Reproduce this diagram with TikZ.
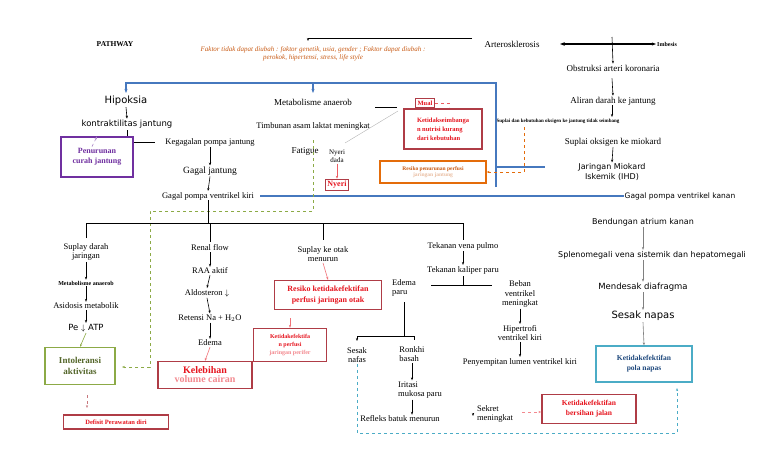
\documentclass[tikz,border=0pt]{standalone}
\usepackage{fontspec}
\setmainfont{Liberation Serif}
\newfontfamily\sansf{DejaVu Sans}
\usetikzlibrary{arrows.meta}
\definecolor{bl}{RGB}{70,120,190}
\definecolor{rd}{RGB}{230,20,30}
\definecolor{rb}{RGB}{175,60,70}
\definecolor{pu}{RGB}{112,48,160}
\definecolor{gr}{RGB}{140,170,70}
\definecolor{og}{RGB}{228,108,10}
\definecolor{ob}{RGB}{200,90,20}
\definecolor{cy}{RGB}{75,172,198}
\definecolor{nb}{RGB}{31,73,125}
\begin{document}
\begin{tikzpicture}[x=1pt,y=-1pt,
 t/.style={font=\fontsize{8.5}{9.5}\selectfont,align=center,inner sep=1pt},
 ts/.style={font=\sansf\fontsize{8}{9.5}\selectfont,align=center,inner sep=1pt},
 tl/.style={font=\sansf\fontsize{10}{11}\selectfont,align=center,inner sep=1pt},
 tiny/.style={font=\fontsize{6}{7}\selectfont\bfseries,align=center,inner sep=1pt},
 box/.style={draw=#1,line width=1.3pt,fill=white,align=center,font=\fontsize{7}{8}\selectfont\bfseries,inner sep=2pt},
 ar/.style={-{Stealth[length=3pt]},line width=0.6pt},
 bline/.style={bl,line width=1.2pt},
 gd/.style={gr,dashed,line width=0.9pt},
]
\useasboundingbox (0,0) rectangle (768,466);
% top
\node[t,font=\fontsize{7.5}{8}\selectfont\bfseries] (pw) at (115,44) {PATHWAY};
\node[t,text=ob,font=\fontsize{7}{8.5}\selectfont\itshape] (fk) at (313,54) {Faktor tidak dapat diubah : faktor genetik, usia, gender ; Faktor dapat diubah :\\ perokok, hipertensi, stress, life style};
\node[t,font=\fontsize{9}{10}\selectfont] (art) at (512,44) {Arterosklerosis};
\coordinate (c1) at (308,38);
\draw[ar] (472,38) -- (c1) -- ++(0,3);
\node[tiny] (imb) at (667,44) {Imbesis};
\draw[{Stealth[length=5pt,open]}-{Stealth[length=4pt]},line width=1.5pt] (560,44) -- (imb.west);
\node[t,font=\fontsize{9}{10}\selectfont] (obs) at (613,68) {Obstruksi arteri koronaria};
\draw[ar] (612,37) -- (obs.north);
\node[t,font=\fontsize{9}{10}\selectfont] (ali) at (613,101) {Aliran darah ke jantung};
\draw[ar] (obs.south) ++(-1,6) -- (ali.north);
\node[t,font=\fontsize{5}{6}\selectfont\bfseries] (sup) at (558,121) {Suplai dan kebutuhan oksigen ke jantung tidak seimbang};
\draw[ar] (612,105) -- (612,117);
\node[t,font=\fontsize{9}{10}\selectfont] (sok) at (613,142) {Suplai oksigen ke miokard};
\node[ts] (jmi) at (612,172) {Jaringan Miokard\\Iskemik (IHD)};
\draw[ar] (sok.south) -- (jmi.north);
\node[ts,font=\sansf\fontsize{7.5}{8}\selectfont] (gkn) at (680,196) {Gagal pompa ventrikel kanan};
% blue lines
\draw[bline,-{Stealth[length=4pt]}] (496,187) -- (496,83) -- (126,83) -- (126,93);
\draw[bline,-{Stealth[length=4pt]}] (313,83) -- (313,93);
\draw[bline] (496,167) -- (545,167);
\draw[bline] (260,196) -- (gkn.west);
% left upper
\node[tl] (hip) at (126,101) {Hipoksia};
\node[ts,font=\sansf\fontsize{8.5}{9.5}\selectfont] (kon) at (127,124) {kontraktilitas jantung};
\draw[ar] (hip.south) -- (kon.north);
\node[ts,font=\sansf\fontsize{9}{10}\selectfont] (cop) at (92,142) {COP};
\draw[line width=0.6pt] (118,142) -- (155,142);
\draw[line width=0.6pt] (127,130) -- (127,163);
\node[t] (keg) at (210,142) {Kegagalan pompa jantung};
\node[t,font=\fontsize{9.5}{10}\selectfont] (gj) at (210,171) {Gagal jantung};
\node[t] (gki) at (208,196) {Gagal pompa ventrikel kiri};
\draw[ar] (keg.south) -- (gj.north);
\draw[ar] (gj.south) -- (gki.north);
\node[box=pu,text=pu,font=\fontsize{8}{10}\selectfont\bfseries,minimum width=72pt,minimum height=40pt] (pcj) at (97,157) {Penurunan\\curah jantung};
\draw[ar,pu!60,dashed] (cop.south) -- (pcj.north);
% metabolisme
\node[t,font=\fontsize{9}{10}\selectfont] (met) at (313,102) {Metabolisme anaerob};
\node[t] (tim) at (313,126) {Timbunan asam laktat meningkat};
\node[t,font=\fontsize{9}{10}\selectfont] (fat) at (305,151) {Fatigue};
\node[t,font=\fontsize{7}{8}\selectfont] (nd) at (337,156) {Nyeri\\dada};
\node[box=rb,text=rd,font=\fontsize{8}{9}\selectfont\bfseries] (ny) at (337,185) {Nyeri};
\draw[ar,rd!70] (nd.south) -- (ny.north);
\draw[line width=0.6pt] (375,107) -- (397,107);
\draw[gray!60] (345,143) -- (398,111);
\node[box=rb,text=rd,font=\fontsize{6.5}{7}\selectfont\bfseries] (mual) at (425,103) {Mual};
\node[box=rb,text=rd,font=\fontsize{6.5}{9}\selectfont\bfseries,align=left,minimum width=78pt,minimum height=40pt] (ket) at (443,129) {Ketidakseimbanga\\n nutrisi kurang\\dari kebutuhan};
\draw[rd!70,dashed] (mual.east) -- ++(14,0) -- ++(0,4);
\node[box=og,text=ob,font=\fontsize{5.5}{7}\selectfont\bfseries,minimum width=106pt,minimum height=22pt] (rpj) at (433,172) {Resiko penurunan perfusi\\[-1pt]{\color{ob!40}jaringan jantung}};
\draw[og,dashed,line width=0.8pt,-{Stealth[length=3pt]}] (524,127) -- (524,172) -- (rpj.east);
\draw[gd,-{Stealth[length=3pt]}] (313,140) -- (313,211) -- (150,211) -- (150,367) -- (122,367);
% level 2
\draw[line width=0.7pt] (208,200) -- (208,223);
\draw[line width=0.7pt] (86,238) -- (86,223) -- (463,223) -- (463,240);
\draw[line width=0.7pt] (210,223) -- (210,242);
\draw[line width=0.7pt] (323,223) -- (323,240);
% column 1
\node[t] (sdj) at (86,252) {Suplay darah\\jaringan};
\node[tiny] (ma2) at (86,283) {Metabolisme anaerob};
\node[t] (asi) at (86,306) {Asidosis metabolik};
\node[ts,font=\sansf\fontsize{8.5}{9}\selectfont] (pe) at (86,328) {Pe $\downarrow$ ATP};
\draw[ar] (sdj.south) -- (ma2.north);
\draw[ar] (ma2.south) -- (asi.north);
\draw[ar] (asi.south) -- (pe.north);
\node[box=gr,text=gr!60!black,font=\fontsize{9}{11}\selectfont\bfseries,minimum width=70pt,minimum height=37pt] (int) at (80,366) {Intoleransi\\aktivitas};
\draw[ar,gr] (pe.south) -- (int.north);
\node[box=rb,text=rd,font=\fontsize{6.5}{7}\selectfont\bfseries,minimum width=105pt,minimum height=14pt] (def) at (116,422) {Defisit Perawatan diri};
\draw[ar,rb!70,dashed] (87,395) -- (87,408);
% column 2
\node[t] (ren) at (210,248) {Renal flow};
\node[t] (raa) at (210,271) {RAA aktif};
\node[t] (ald) at (207,293) {Aldosteron $\downarrow$};
\node[t] (ret) at (210,318) {Retensi Na + H$_2$O};
\node[t] (ede) at (210,343) {Edema};
\draw[ar] (ren.south) -- (raa.north);
\draw[ar] (raa.south) -- (ald.north);
\draw[ar] (ald.south) -- (ret.north);
\draw[ar] (ret.south) -- (ede.north);
\node[box=rb,text=rd,font=\fontsize{10}{12}\selectfont\bfseries,minimum width=94pt,minimum height=27pt] (kvc) at (205,375) {Kelebihan\\[-3pt]{\color{rd!50}volume cairan}};
\draw[ar,rd!60] (ede.south) -- (kvc.north);
% column 3
\node[t] (sko) at (323,254) {Suplay ke otak\\menurun};
\node[box=rb,text=rd,font=\fontsize{8}{11}\selectfont\bfseries,minimum width=107pt,minimum height=29pt] (rko) at (328,295) {Resiko ketidakefektifan\\perfusi jaringan otak};
\draw[ar,rd!60] (sko.south) -- (rko.north);
\node[box=rb,text=rd,font=\fontsize{6}{8}\selectfont\bfseries,minimum width=73pt,minimum height=33pt] (kpp) at (290,345) {Ketidakefektifa\\n perfusi\\{\color{rd!50}jaringan perifer}};
\draw[ar,rd!60] (290,318) -- (kpp.north);
% column 4
\node[t] (tvp) at (463,246) {Tekanan vena pulmo};
\node[t] (tkp) at (463,270) {Tekanan kaliper paru};
\draw[ar] (tvp.south) -- (tkp.north);
\draw[line width=0.7pt] (463,276) -- (463,285);
\draw[line width=0.7pt] (431,285) -- (492,285);
\node[t,align=left] (edp) at (404,288) {Edema\\paru};
\node[t] (bvm) at (520,294) {Beban\\ventrikel\\meningkat};
\node[t] (hvk) at (520,333) {Hipertrofi\\ventrikel kiri};
\node[t] (plv) at (520,362) {Penyempitan lumen ventrikel kiri};
\draw[ar] (bvm.south) -- (hvk.north);
\draw[ar] (hvk.south) -- (plv.north);
\draw[line width=0.7pt] (404,302) -- (404,336);
\draw[ar] (357,336) -- (357,341);
\draw[line width=0.7pt] (357,336) -- (414,336) -- (414,340);
\node[t] (sn) at (357,355) {Sesak\\nafas};
\node[t,align=left] (rb) at (412,354) {Ronkhi\\basah};
\node[t,align=left] (imp) at (420,390) {Iritasi\\mukosa paru};
\node[t] (rbm) at (400,419) {Refleks batuk menurun};
\node[t,align=left] (skm) at (495,414) {Sekret\\meningkat};
\draw[ar] (rb.south -| 412,0) -- (imp.north -| 412,0);
\draw[ar] (imp.south -| 412,0) -- (rbm.north -| 412,0);
\draw[ar] (473,413) -- (473,416);
\node[box=rb,text=rd,font=\fontsize{7.5}{10}\selectfont\bfseries,minimum width=94pt,minimum height=29pt] (kbj) at (589,409) {Ketidakefektifan\\bersihan jalan};
\coordinate (sk1) at (522,412);
\draw[ar,rd!50,dashed] (sk1) -- (sk1 -| kbj.west);
% right column
\node[ts] (bak) at (643,222) {Bendungan atrium kanan};
\node[ts] (spl) at (652,255) {Splenomegali vena sistemik dan hepatomegali};
\node[ts,font=\sansf\fontsize{8.5}{9.5}\selectfont] (mdf) at (643,287) {Mendesak diafragma};
\node[tl] (snp) at (643,316) {Sesak napas};
\draw[ar,gray] (bak.south) -- (bak.south |- spl.north);
\draw[ar,gray] (mdf.north |- spl.south) -- (mdf.north);
\draw[ar,gray] (mdf.south) -- (snp.north);
\node[box=cy,text=nb,font=\fontsize{7.5}{10}\selectfont\bfseries,minimum width=96pt,minimum height=36pt] (kpn) at (644,364) {Ketidakefektifan\\pola napas};
\draw[ar,gray] (snp.south) -- (kpn.north);
\draw[cy,dashed,line width=0.9pt,-{Stealth[length=3pt]}] (sn.south) -- (357,433) -- (677,433) -- (677,388);
\end{tikzpicture}
\end{document}
